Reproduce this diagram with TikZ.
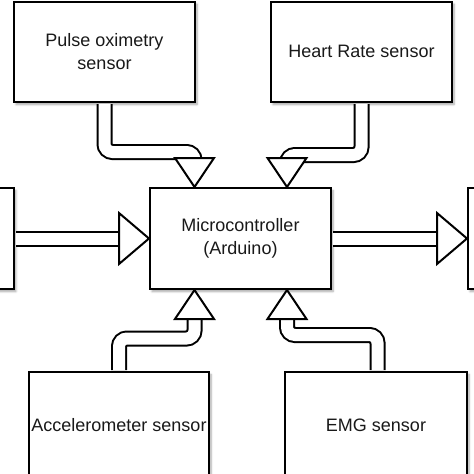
\documentclass[tikz,border=0pt]{standalone}
\usepackage{fontspec}
\setmainfont{Liberation Sans}
\usetikzlibrary{calc,shadows.blur}
\begin{document}
\begin{tikzpicture}[x=1pt,y=-1pt,
 box/.style={draw=black, line width=2pt, fill=white, inner sep=0pt, align=center,
   font=\fontsize{18}{23}\selectfont, text=black!90,
   blur shadow={shadow xshift=2pt, shadow yshift=-2.5pt, shadow blur steps=6, shadow opacity=35}},
 shaft/.style={draw=black, line width=2pt, double=white, double distance=12pt, rounded corners=8pt},
 head/.style={draw=black, line width=2pt, fill=white, line join=miter}]
\useasboundingbox (0,0) rectangle (474,474);
\clip (0,0) rectangle (474,474);
% boxes
\node[box, minimum width=181pt, minimum height=100.5pt] (pulse) at (104.5,51.75) {Pulse oximetry\\sensor};
\node[box, minimum width=181pt, minimum height=100.5pt] (heart) at (361.5,51.75) {Heart Rate sensor};
\node[box, minimum width=181pt, minimum height=101pt] (micro) at (240.5,238.5) {Microcontroller\\(Arduino)};
\node[box, minimum width=60pt, minimum height=101pt] (leftbox) at (-16,238.5) {};
\node[box, minimum width=60pt, minimum height=101pt] (rightbox) at (498,238.5) {};
\node[box, minimum width=180pt, minimum height=106pt] (acc) at (119,425) {Accelerometer sensor};
\node[box, minimum width=182pt, minimum height=106pt] (emg) at (376,425) {EMG sensor};
% tips
\coordinate (tp) at ($(micro.north west)+(45.5,0)$);
\coordinate (th) at ($(micro.north east)+(-45,0)$);
\coordinate (ta) at ($(micro.south west)+(45.5,0)$);
\coordinate (te) at ($(micro.south east)+(-45,0)$);
\coordinate (tl) at (micro.west);
\coordinate (tr) at (rightbox.west);
% shafts
\draw[shaft] ($(pulse.south)+(0,1)$) -- ++(0,48) -| ($(tp)+(0,-18)$);
\draw[shaft] ($(heart.south)+(0,1)$) -- ++(0,51) -| ($(th)+(0,-18)$);
\draw[shaft] ($(acc.north)+(0,-1)$) -- ++(0,-31.5) -| ($(ta)+(0,18)$);
\draw[shaft] ($(emg.north)+(1.5,-1)$) -- ++(0,-35) -| ($(te)+(0,18)$);
\draw[shaft] ($(leftbox.east)+(1,0)$) -- ($(tl)+(-18,0)$);
\draw[shaft] ($(micro.east)+(1,0)$) -- ($(tr)+(-18,0)$);
% heads
\draw[head] (tp) -- ++(-19.5,-29) -- ++(39,0) -- cycle;
\draw[head] (th) -- ++(-19.5,-29) -- ++(39,0) -- cycle;
\draw[head] (ta) -- ++(-19.5,29) -- ++(39,0) -- cycle;
\draw[head] (te) -- ++(-19.5,29) -- ++(39,0) -- cycle;
\draw[head] (tl) -- ++(-30,-25.5) -- ++(0,51) -- cycle;
\draw[head] (tr) -- ++(-30,-25.5) -- ++(0,51) -- cycle;
\end{tikzpicture}
\end{document}
